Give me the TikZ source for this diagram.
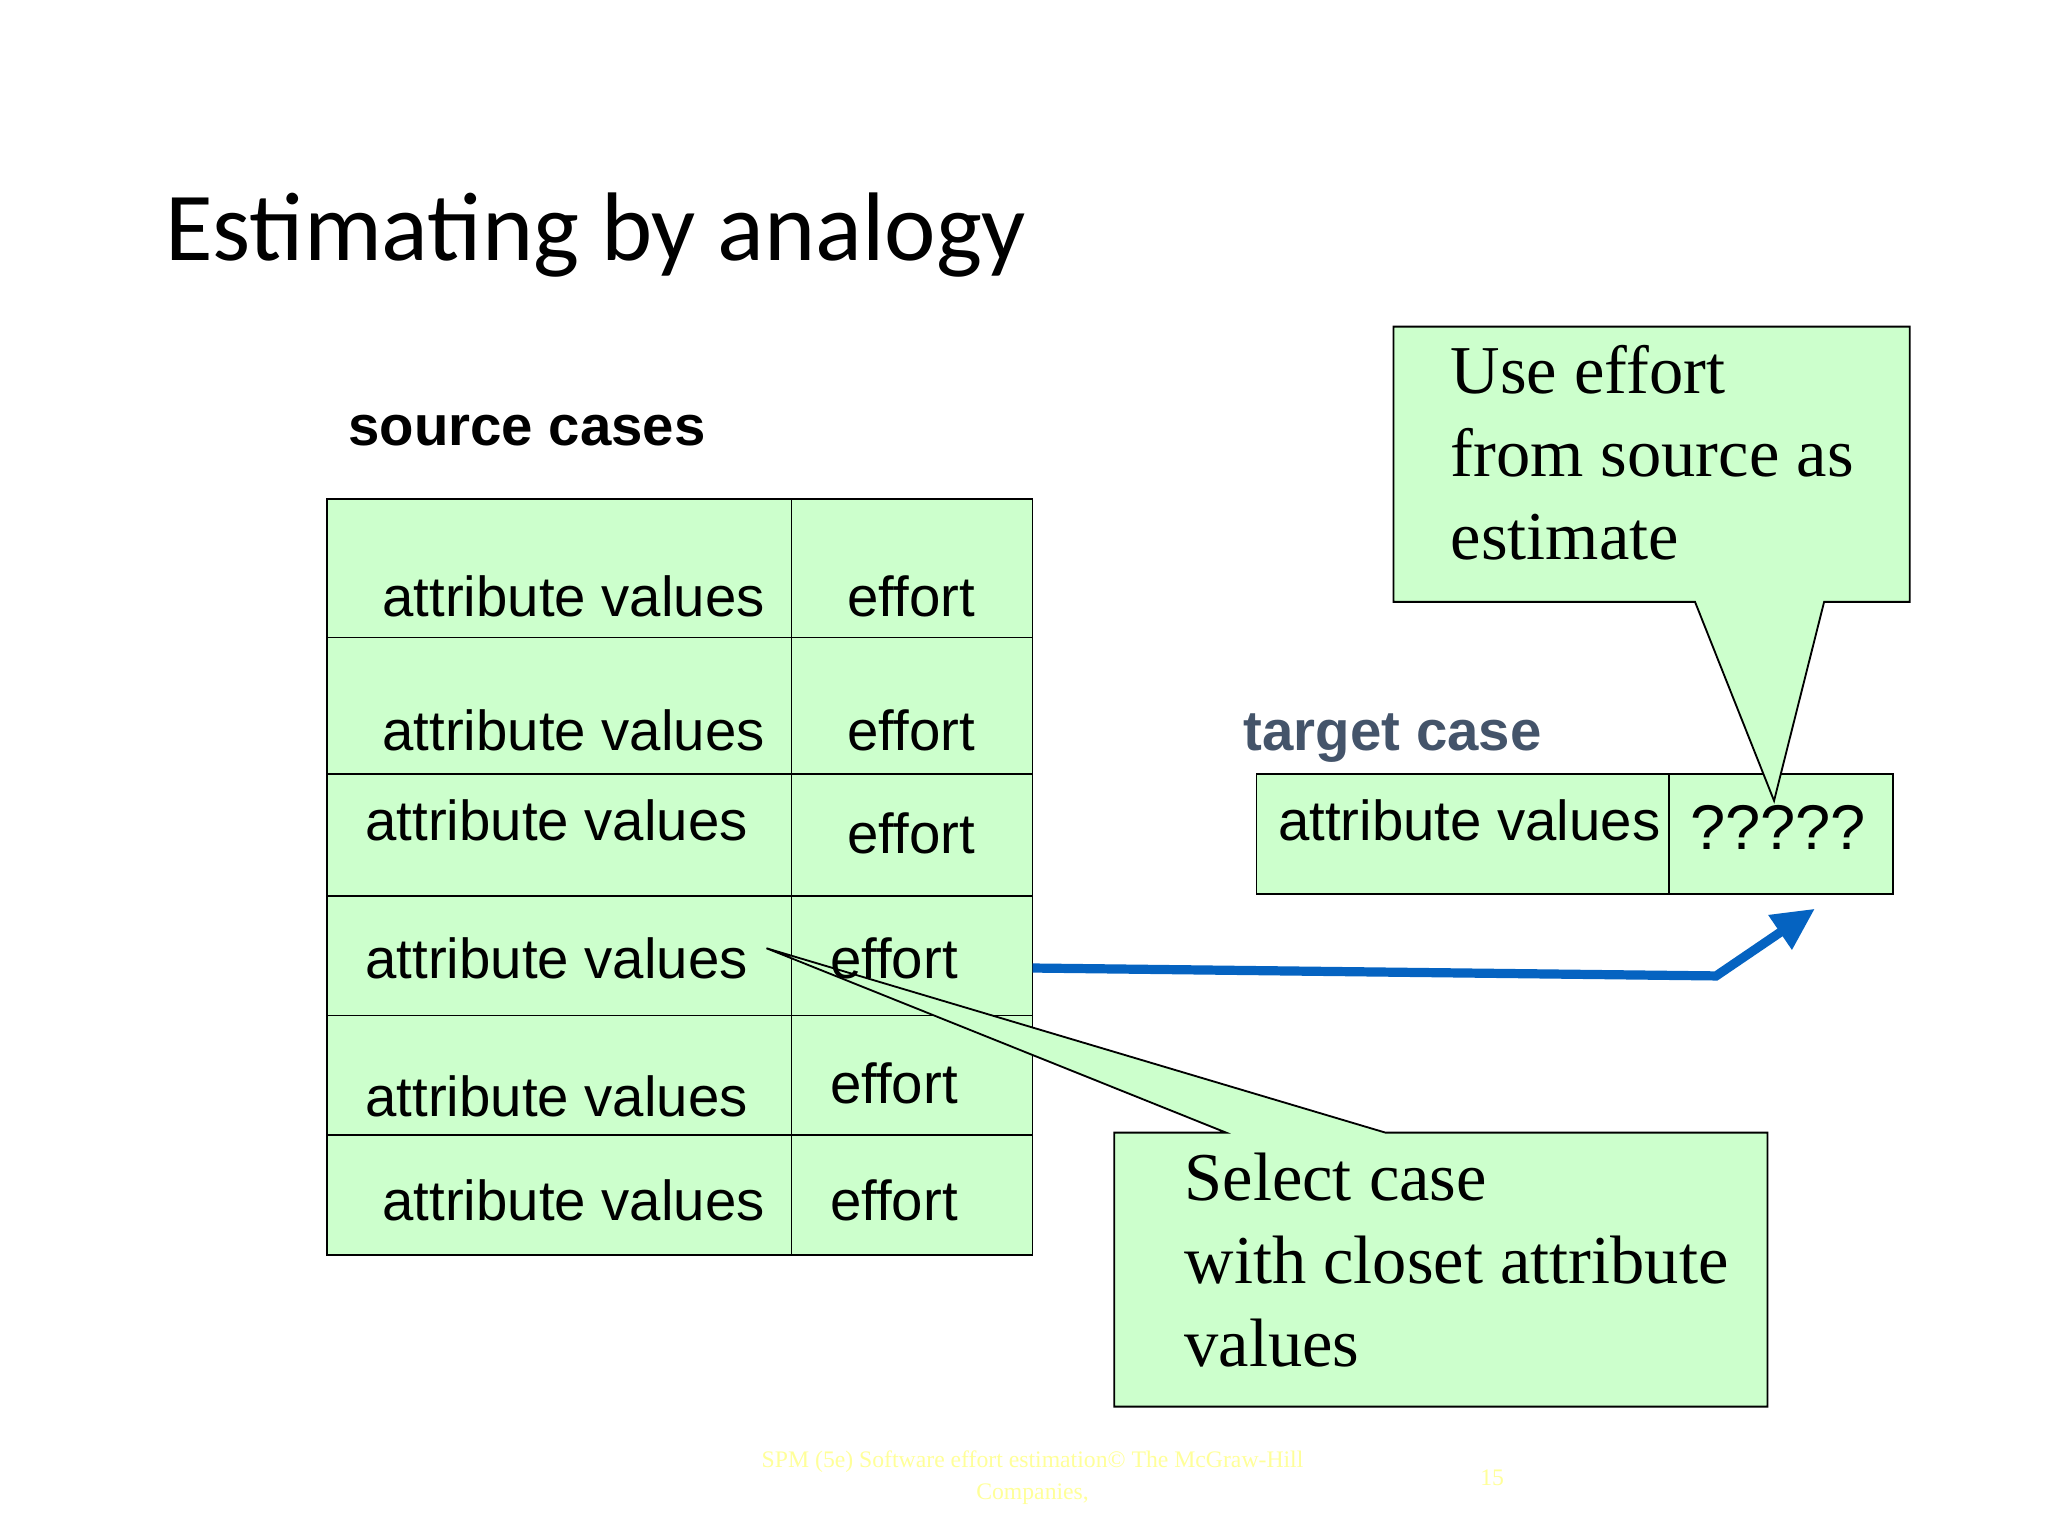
\documentclass[tikz,border=0pt]{standalone}
\usepackage{fontspec}
\setmainfont{Liberation Serif}
\newfontfamily\arial{Liberation Sans}
\newfontfamily\calib{Carlito}
\usetikzlibrary{arrows.meta}
\definecolor{cellgreen}{HTML}{CCFFCC}
\definecolor{arrowblue}{HTML}{0563C1}
\definecolor{slate}{HTML}{44546A}
\definecolor{foot}{HTML}{FFFF99}
\begin{document}
\begin{tikzpicture}[x=0.5pt,y=-0.5pt,
  cell/.style={draw=black,fill=cellgreen,line width=0.7pt},
  celltxt/.style={font=\arial\fontsize{21.4}{24}\selectfont,anchor=base west,inner sep=0pt},
  calltxt/.style={font=\fontsize{26}{31.5}\selectfont,anchor=north west,align=left,inner sep=0pt},
  callout/.style={draw=black,fill=cellgreen,line width=0.7pt}]
\useasboundingbox (0,0) rectangle (1555,1166);
\node[font=\calib\fontsize{37}{40}\selectfont,anchor=base west,inner sep=0pt] (title) at (125,198) {Estimating by analogy};
\node[font=\arial\bfseries\fontsize{21.4}{24}\selectfont,anchor=base west,inner sep=0pt] (src) at (264,338) {source cases};
% table
\foreach \i/\ya/\yb in {1/379/484,2/484/588,3/588/680,4/680/771,5/771/862,6/862/953}{
  \path[cell] (248,\ya) rectangle (601,\yb);
  \path[cell] (601,\ya) rectangle (784,\yb);
  \coordinate (a\i) at (248,\ya);
}
\node[celltxt] (t1) at (290,468) {attribute values};
\node[celltxt] (e1) at (643,468) {effort};
\node[celltxt] (t2) at (290,570) {attribute values};
\node[celltxt] (e2) at (643,570) {effort};
\node[celltxt] (t3) at (277,638) {attribute values};
\node[celltxt] (e3) at (643,648) {effort};
\node[celltxt] (t5) at (277,848) {attribute values};
\node[celltxt] (e5) at (630,838) {effort};
\node[celltxt] (t6) at (290,927) {attribute values};
\node[celltxt] (e6) at (630,927) {effort};
% target
\node[font=\arial\bfseries\fontsize{21.4}{24}\selectfont,text=slate,anchor=base west,inner sep=0pt] (tgt) at (944,570) {target case};
\path[cell] (954,588) rectangle (1267,679);
\path[cell] (1267,588) rectangle (1437,679);
\node[celltxt] (tt) at (970,638) {attribute values};
\node[celltxt,font=\arial\fontsize{24}{28}\selectfont] (q) at (1283,645) {?????};
% arrow
\coordinate (as) at (784,735);
\coordinate (ab) at (1303,741);
\coordinate (ae) at (1378,690);
\draw[arrowblue,line width=3.5pt,-{Triangle[length=16pt,width=15pt]}] (as) -- (ab) -- (ae);
% callout 1
\path[callout] (1058,248) -- (1450,248) -- (1450,457) -- (1385,457) -- (1347,608) -- (1287,457) -- (1058,457) -- cycle;
\node[calltxt] (c1) at (1101,262) {Use effort\\from source as\\estimate};
% callout 2 (drawn over row 4)
\node[celltxt] (t4) at (277,743) {attribute values};
\path[callout] (846,860) -- (931,860) -- (582,720) -- (1052,860) -- (1342,860) -- (1342,1068) -- (846,1068) -- cycle;
\node[celltxt] (e4) at (630,743) {effort};
\node[calltxt] (c2) at (899,875) {Select case\\with closet attribute\\values};
% footer
\node[font=\fontsize{9}{12}\selectfont,text=foot,align=center,inner sep=0pt] (ft) at (784,1122) {SPM (5e) Software effort estimation\textcopyright{} The McGraw-Hill\\Companies,};
\node[font=\fontsize{9}{12}\selectfont,text=foot,inner sep=0pt] (pg) at (1133,1122) {15};
\end{tikzpicture}
\end{document}
